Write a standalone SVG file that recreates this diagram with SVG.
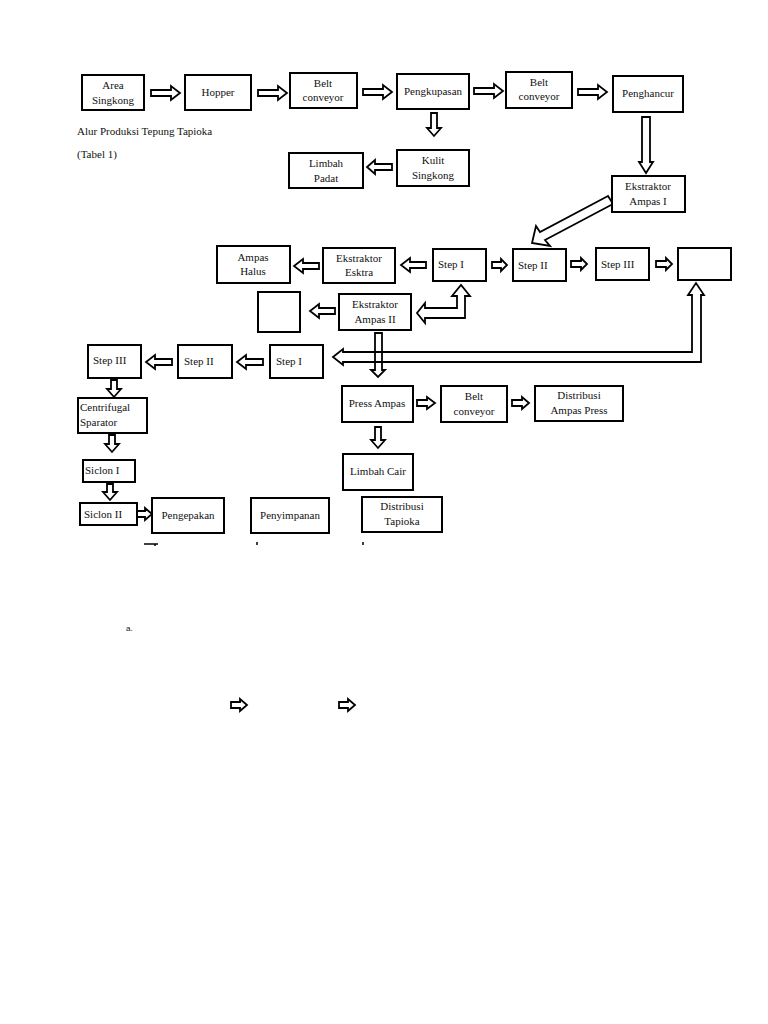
<svg xmlns="http://www.w3.org/2000/svg" width="768" height="1024" viewBox="0 0 768 1024">
<style>
.b{fill:#fff;stroke:#000;stroke-width:2}
.t{font-family:"Liberation Serif","Times New Roman",serif;font-size:11px;fill:#111}
.c{text-anchor:middle}
.a{fill:#fff;stroke:#000;stroke-width:1.8;stroke-linejoin:miter}
.n{fill:none;stroke:#000;stroke-width:1.8}
</style>
<rect width="768" height="1024" fill="#fff"/>
<g id="connectors">
<polygon class="a" points="151,90 171,90 171,86 180,93 171,100 171,96 151,96"/>
<polygon class="a" points="258,90 278,90 278,86 287,93 278,100 278,96 258,96"/>
<polygon class="a" points="363,89 383,89 383,85 392,92 383,99 383,95 363,95"/>
<polygon class="a" points="474,88 494,88 494,84 503,91 494,98 494,94 474,94"/>
<polygon class="a" points="578,89 598,89 598,85 607,92 598,99 598,95 578,95"/>
<polygon class="a" points="431,113 437,113 437,128 441,128 434,136 427,128 431,128"/>
<polygon class="a" points="392,164 375,164 375,160 367,167 375,174 375,170 392,170"/>
<polygon class="a" points="642,117 650,117 650,162 653,162 646,173 639,162 642,162"/>
<polygon class="a" points="608,196 540,232 536,226 532,243 550,246 545,240 613,204"/>
<polygon class="a" points="319,263 303,263 303,259 294,266 303,273 303,269 319,269"/>
<polygon class="a" points="426,262 410,262 410,258 401,265 410,272 410,268 426,268"/>
<polygon class="a" points="492,262 501,262 501,259 507,265 501,271 501,268 492,268"/>
<polygon class="a" points="571,261 581,261 581,258 587,264 581,270 581,267 571,267"/>
<polygon class="a" points="656,261 666,261 666,258 672,264 666,270 666,267 656,267"/>
<polygon class="a" points="335,308 319,308 319,304 310,311 319,318 319,314 335,314"/>
<polygon class="a" points="457,308 457,296 452,296 461,285 470,296 465,296 465,318 425,318 425,323 417,313 425,303 425,308"/>
<polygon class="n" points="333,357 343,349 343,352 692,352 692,295 688,295 696,283 704,295 701,295 701,362 343,362 343,365"/>
<polygon class="n" points="375,333 382,333 382,370 385,370 378,377 371,370 375,370"/>
<polygon class="a" points="172,359 155,359 155,355 146,362 155,369 155,365 172,365"/>
<polygon class="a" points="263,359 246,359 246,355 237,362 246,369 246,365 263,365"/>
<polygon class="a" points="111,380 117,380 117,389 121,389 114,397 107,389 111,389"/>
<polygon class="a" points="109,435 115,435 115,444 119,444 112,452 105,444 109,444"/>
<polygon class="a" points="107,484 113,484 113,492 117,492 110,500 103,492 107,492"/>
<polygon class="a" points="137,511 145,511 145,508 152,514 145,520 145,517 137,517"/>
<polygon class="a" points="417,400 427,400 427,397 435,403 427,409 427,406 417,406"/>
<polygon class="a" points="512,400 522,400 522,397 529,403 522,409 522,406 512,406"/>
<polygon class="a" points="375,427 381,427 381,440 385,440 378,448 371,440 375,440"/>
<polygon class="a" points="231,702 240,702 240,699 247,705 240,711 240,708 231,708"/>
<polygon class="a" points="339,702 348,702 348,699 355,705 348,711 348,708 339,708"/>
<line x1="144" y1="544" x2="158" y2="544" stroke="#000" stroke-width="1.5"/>
<line x1="155" y1="544" x2="155" y2="546" stroke="#000" stroke-width="1.5"/>
<line x1="257" y1="542" x2="257" y2="545" stroke="#000" stroke-width="1.5"/>
<line x1="363" y1="542" x2="363" y2="545" stroke="#000" stroke-width="1.5"/>
</g>

<g id="n-area"><rect class="b" x="82" y="75" width="62" height="35"/><text class="t c" x="113" y="89">Area</text><text class="t c" x="113" y="104">Singkong</text></g>
<g id="n-hopper"><rect class="b" x="185" y="75" width="66" height="35"/><text class="t c" x="218" y="96">Hopper</text></g>
<g id="n-belt1"><rect class="b" x="290" y="73" width="67" height="35"/><text class="t c" x="323" y="87">Belt</text><text class="t c" x="323" y="101">conveyor</text></g>
<g id="n-pengkupasan"><rect class="b" x="397" y="74" width="72" height="35"/><text class="t c" x="433" y="95">Pengkupasan</text></g>
<g id="n-belt2"><rect class="b" x="506" y="72" width="66" height="36"/><text class="t c" x="539" y="86">Belt</text><text class="t c" x="539" y="100">conveyor</text></g>
<g id="n-penghancur"><rect class="b" x="613" y="76" width="70" height="36"/><text class="t c" x="648" y="97">Penghancur</text></g>
<g id="n-title"><text class="t" x="77" y="135">Alur Produksi Tepung Tapioka</text><text class="t" x="77" y="158">(Tabel 1)</text></g>
<g id="n-kulit"><rect class="b" x="397" y="150" width="72" height="36"/><text class="t c" x="433" y="164">Kulit</text><text class="t c" x="433" y="179">Singkong</text></g>
<g id="n-limbahpadat"><rect class="b" x="289" y="153" width="74" height="35"/><text class="t c" x="326" y="167">Limbah</text><text class="t c" x="326" y="182">Padat</text></g>
<g id="n-ekstI"><rect class="b" x="612" y="176" width="73" height="36"/><text class="t c" x="648" y="190">Ekstraktor</text><text class="t c" x="648" y="205">Ampas I</text></g>
<g id="n-ampashalus"><rect class="b" x="217" y="246" width="73" height="37"/><text class="t c" x="253" y="261">Ampas</text><text class="t c" x="253" y="275">Halus</text></g>
<g id="n-eskra"><rect class="b" x="323" y="248" width="72" height="35"/><text class="t c" x="359" y="262">Ekstraktor</text><text class="t c" x="359" y="276">Esktra</text></g>
<g id="n-step1a"><rect class="b" x="433" y="249" width="53" height="32"/><text class="t" x="438" y="268">Step I</text></g>
<g id="n-step2a"><rect class="b" x="513" y="249" width="53" height="32"/><text class="t" x="518" y="269">Step II</text></g>
<g id="n-step3a"><rect class="b" x="596" y="248" width="53" height="32"/><text class="t" x="601" y="268">Step III</text></g>
<g id="n-emptyR"><rect class="b" x="678" y="248" width="53" height="32"/></g>
<g id="n-emptyL"><rect class="b" x="258" y="292" width="42" height="40"/></g>
<g id="n-ekstII"><rect class="b" x="339" y="294" width="72" height="36"/><text class="t c" x="375" y="308">Ekstraktor</text><text class="t c" x="375" y="323">Ampas II</text></g>
<g id="n-step3b"><rect class="b" x="88" y="345" width="53" height="33"/><text class="t" x="93" y="364">Step III</text></g>
<g id="n-step2b"><rect class="b" x="178" y="345" width="54" height="33"/><text class="t" x="184" y="365">Step II</text></g>
<g id="n-step1b"><rect class="b" x="270" y="345" width="53" height="33"/><text class="t" x="276" y="365">Step I</text></g>
<g id="n-centrifugal"><rect class="b" x="78" y="398" width="69" height="35"/><text class="t" x="80" y="411">Centrifugal</text><text class="t" x="80" y="426">Sparator</text></g>
<g id="n-siclon1"><rect class="b" x="83" y="460" width="52" height="22"/><text class="t" x="85" y="474">Siclon I</text></g>
<g id="n-siclon2"><rect class="b" x="80" y="503" width="57" height="22"/><text class="t" x="84" y="518">Siclon II</text></g>
<g id="n-pengepakan"><rect class="b" x="152" y="498" width="72" height="35"/><text class="t c" x="188" y="519">Pengepakan</text></g>
<g id="n-penyimpanan"><rect class="b" x="251" y="498" width="78" height="35"/><text class="t c" x="290" y="519">Penyimpanan</text></g>
<g id="n-press"><rect class="b" x="342" y="386" width="71" height="36"/><text class="t c" x="377" y="407">Press Ampas</text></g>
<g id="n-belt3"><rect class="b" x="441" y="386" width="66" height="36" stroke-width="1.5"/><text class="t c" x="474" y="400">Belt</text><text class="t c" x="474" y="415">conveyor</text></g>
<g id="n-distampas"><rect class="b" x="535" y="386" width="88" height="35"/><text class="t c" x="579" y="399">Distribusi</text><text class="t c" x="579" y="414">Ampas Press</text></g>
<g id="n-limbahcair"><rect class="b" x="343" y="454" width="70" height="36"/><text class="t c" x="378" y="475">Limbah Cair</text></g>
<g id="n-disttapioka"><rect class="b" x="362" y="497" width="80" height="35" stroke-width="1.5"/><text class="t c" x="402" y="510">Distribusi</text><text class="t c" x="402" y="525">Tapioka</text></g>
<g id="n-a"><text x="126" y="631" font-family="Liberation Sans, Arial, sans-serif" font-size="8" fill="#111">a.</text></g>
</svg>
